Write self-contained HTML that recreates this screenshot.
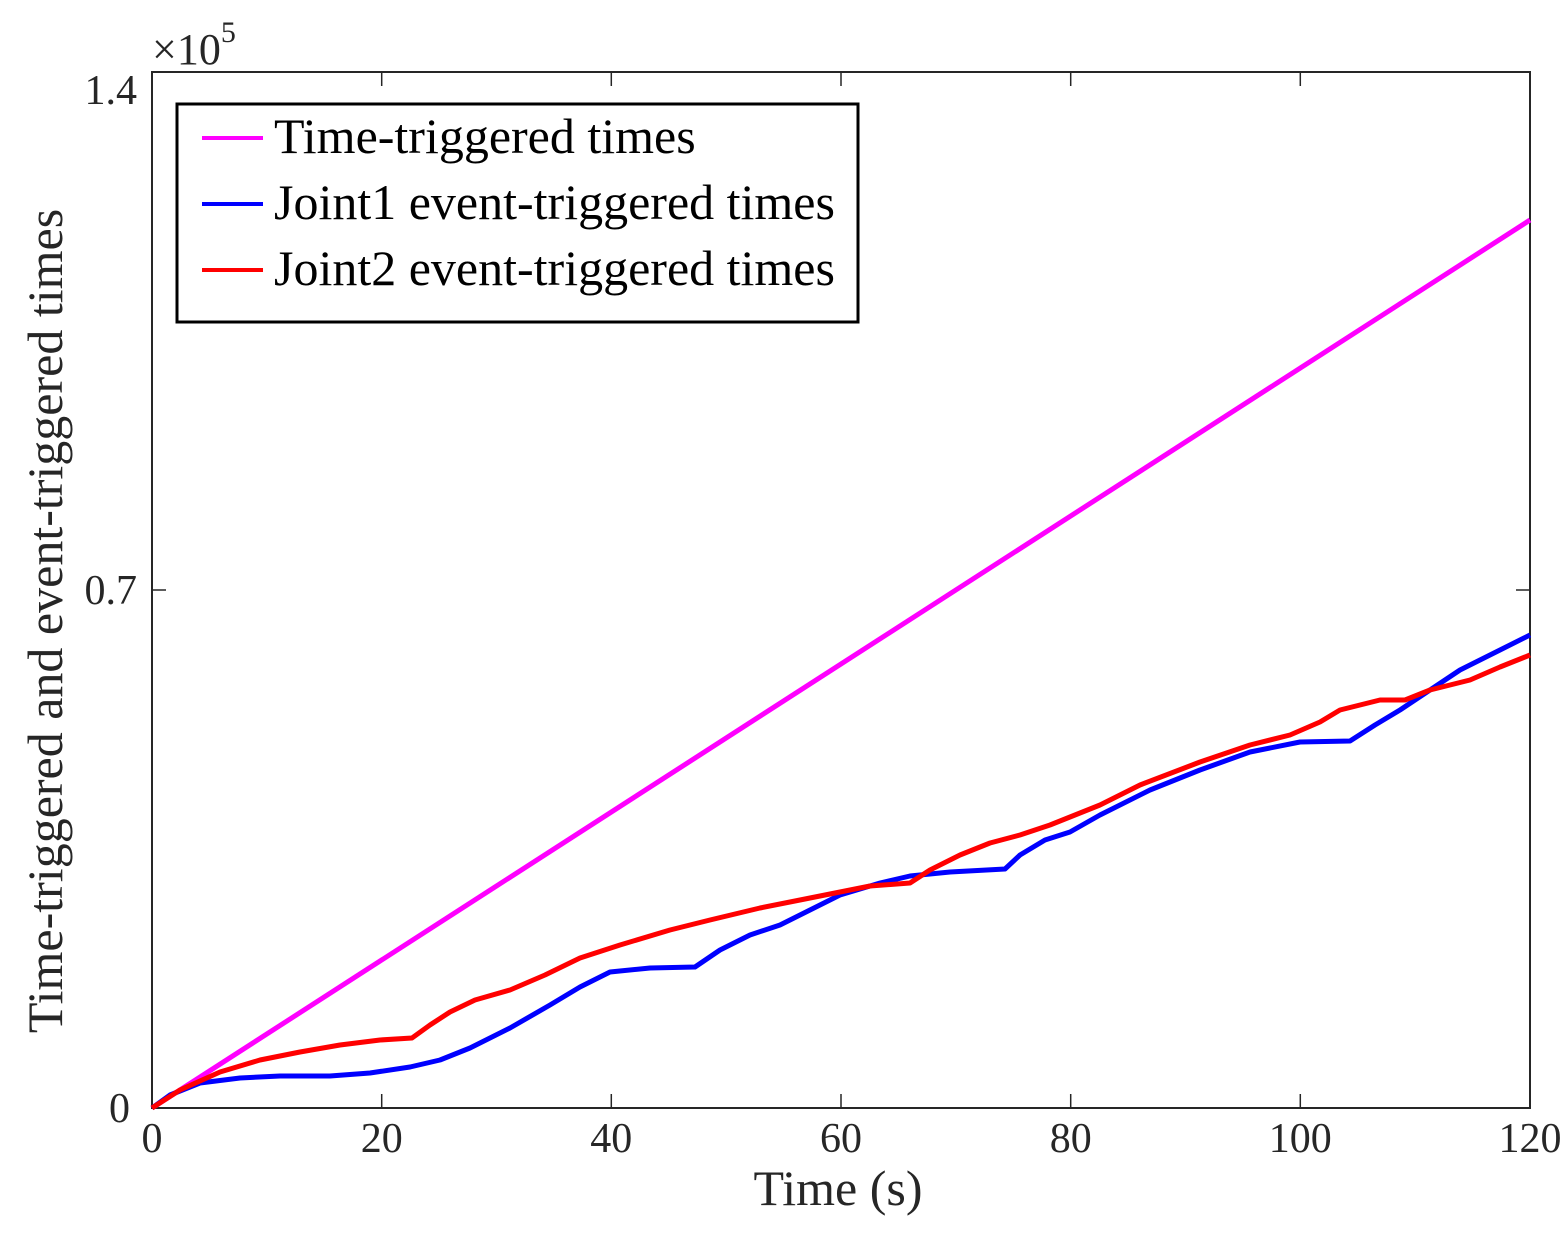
<!DOCTYPE html>
<html><head><style>body{margin:0;background:#fff}</style></head><body>
<svg width="1568" height="1237" viewBox="0 0 1568 1237" xmlns="http://www.w3.org/2000/svg" font-family="Liberation Serif, serif" fill="#262626">
<rect width="1568" height="1237" fill="#fff"/>
<rect x="152" y="72" width="1378" height="1036" fill="none" stroke="#262626" stroke-width="2"/>
<g stroke="#262626" stroke-width="1.5">
<line x1="381.7" y1="1108" x2="381.7" y2="1094"/><line x1="611.3" y1="1108" x2="611.3" y2="1094"/><line x1="841" y1="1108" x2="841" y2="1094"/><line x1="1070.7" y1="1108" x2="1070.7" y2="1094"/><line x1="1300.3" y1="1108" x2="1300.3" y2="1094"/>
<line x1="381.7" y1="72" x2="381.7" y2="86"/><line x1="611.3" y1="72" x2="611.3" y2="86"/><line x1="841" y1="72" x2="841" y2="86"/><line x1="1070.7" y1="72" x2="1070.7" y2="86"/><line x1="1300.3" y1="72" x2="1300.3" y2="86"/>
<line x1="152" y1="590" x2="166" y2="590"/><line x1="1530" y1="590" x2="1516" y2="590"/>
</g>
<g font-size="42" text-anchor="middle">
<text x="152" y="1152">0</text><text x="381.7" y="1152">20</text><text x="611.3" y="1152">40</text><text x="841" y="1152">60</text><text x="1070.7" y="1152">80</text><text x="1300.3" y="1152">100</text><text x="1530" y="1152">120</text>
</g>
<g font-size="42" text-anchor="end">
<text x="130" y="1122">0</text><text x="137" y="604">0.7</text><text x="137" y="104">1.4</text>
</g>
<text x="152" y="64" font-size="44">×10<tspan font-size="30" dy="-22">5</tspan></text>
<text x="838" y="1205" font-size="50" text-anchor="middle">Time (s)</text>
<text transform="translate(62,621) rotate(-90)" font-size="50" text-anchor="middle">Time-triggered and event-triggered times</text>
<g fill="none" stroke-width="5" stroke-linejoin="round">
<polyline stroke="#ff00ff" points="152,1108 1530,220"/>
<polyline stroke="#0000ff" points="152,1108 170,1095 200,1083 240,1078 280,1076 330,1076 370,1073 410,1067 440,1060 470,1048 510,1028 550,1005 580,987 610,972 650,968 695,967 720,950 750,935 780,925 810,910 840,895 880,883 910,876 950,872 1005,869 1020,855 1045,840 1070,832 1100,815 1150,790 1200,770 1250,752 1300,742 1350,741 1375,725 1400,710 1430,690 1460,670 1500,650 1530,635"/>
<polyline stroke="#ff0000" points="152,1108 180,1090 220,1072 260,1060 300,1052 340,1045 380,1040 412,1038 430,1025 450,1012 475,1000 510,990 545,975 580,958 620,945 670,930 710,920 760,908 800,900 840,892 870,886 910,883 930,870 960,855 990,843 1020,835 1050,825 1100,805 1140,785 1200,762 1250,745 1290,735 1320,722 1340,710 1380,700 1405,700 1430,690 1470,680 1500,667 1530,655"/>
</g>
<rect x="177" y="104" width="681" height="218" fill="#fff" stroke="#000" stroke-width="3"/>
<g stroke-width="4"><line x1="202" y1="138" x2="263" y2="138" stroke="#ff00ff"/><line x1="202" y1="204" x2="263" y2="204" stroke="#0000ff"/><line x1="202" y1="270" x2="263" y2="270" stroke="#ff0000"/></g>
<g font-size="50" fill="#000">
<text x="274" y="153">Time-triggered times</text>
<text x="274" y="219">Joint1 event-triggered times</text>
<text x="274" y="285">Joint2 event-triggered times</text>
</g>
</svg>
</body></html>
